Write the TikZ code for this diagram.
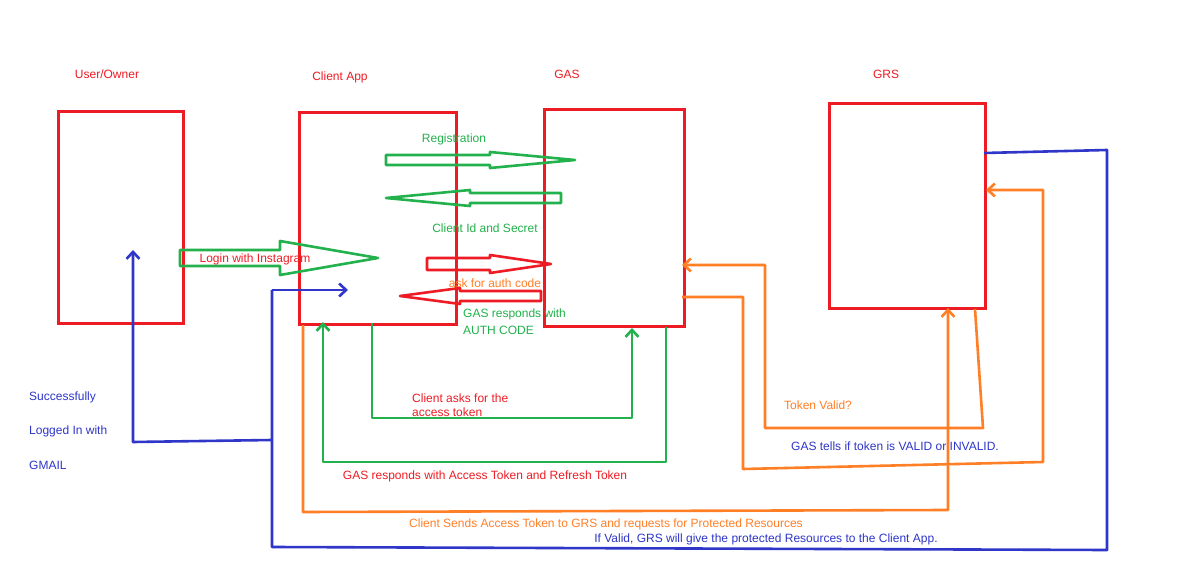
\documentclass[tikz,border=0pt]{standalone}
\usepackage{fontspec}
\setmainfont{Liberation Sans}
\usetikzlibrary{arrows.meta}
\definecolor{pred}{RGB}{237,28,36}
\definecolor{pgreen}{RGB}{34,177,76}
\definecolor{pblue}{RGB}{47,54,200}
\definecolor{porange}{RGB}{255,127,39}
% hollow arrow: x1, x2, y, shaft half width, head half width, head length, colour
\newcommand{\harrow}[7]{%
  \draw[#7,line width=2.6pt,line join=round] ({#1},{#3-#4}) -- ({#2-#6},{#3-#4}) -- ({#2-#6},{#3-#5})
    -- (#2,#3) -- ({#2-#6},{#3+#5}) -- ({#2-#6},{#3+#4}) -- ({#1},{#3+#4}) -- cycle;}
\begin{document}
\begin{tikzpicture}[x=1pt,y=-1pt,
    box/.style={draw=pred,line width=3pt,inner sep=0pt,anchor=north west},
    lbl/.style={font=\fontsize{12}{14}\selectfont,inner sep=1pt},
    wire/.style={line width=2.6pt,line join=round},
    tip/.style={-{Straight Barb[length=7pt,width=13pt]}}]
  \useasboundingbox (0,0) rectangle (1200,564);
  \fill[white] (0,0) rectangle (1200,564);

  % Boxes
  \node[box,minimum width=125pt,minimum height=212pt] (user) at (57,110) {};
  \node[box,minimum width=157pt,minimum height=212pt] (client) at (298,111) {};
  \node[box,minimum width=140pt,minimum height=217pt] (gas) at (543,108) {};
  \node[box,minimum width=156pt,minimum height=205pt] (grs) at (828,102) {};

  \node[lbl,text=pred] (l_user) at (107,74) {User/Owner};
  \node[lbl,text=pred] (l_client) at (340,77) {Client App};
  \node[lbl,text=pred] (l_gas) at (567,74) {GAS};
  \node[lbl,text=pred] (l_grs) at (886,74) {GRS};

  % Hollow arrows
  \harrow{386}{575}{160}{5}{8}{85}{pgreen}
  \harrow{561}{386}{198}{5}{8}{-84}{pgreen}
  \harrow{180}{378}{258}{8}{17}{98}{pgreen}
  \harrow{427}{551}{264}{6}{9}{61}{pred}
  \harrow{541}{400}{296}{5}{8}{-60}{pred}

  \node[lbl,text=pgreen] (l_reg) at (454,139) {Registration};
  \node[lbl,text=pgreen] (l_secret) at (485,228) {Client Id and Secret};
  \node[lbl,text=pred] (l_login) at (255,259) {Login with Instagram};
  \node[lbl,text=porange] (l_ask) at (495,283) {ask for auth code};
  \node[lbl,text=pgreen,align=left,anchor=north west] (l_authcode) at (462,308) {GAS responds with\\[3pt]AUTH CODE};

  % Blue lines
  \draw[wire,pblue,tip] (272,440) -- (133,442) -- (133,250);
  \draw[wire,pblue] (984,153) -- (1107,150) -- (1107,550) -- (272,547) -- (272,290);
  \draw[wire,pblue,tip] (272,290) -- (348,290);
  \node[lbl,text=pblue,anchor=west] (l_succ1) at (28,397) {Successfully};
  \node[lbl,text=pblue,anchor=west] (l_succ2) at (28,431) {Logged In with};
  \node[lbl,text=pblue,anchor=west] (l_succ3) at (28,465) {GMAIL};

  % Green token paths
  \draw[wire,pgreen,tip] (372,323) -- (372,418) -- (632,418) -- (632,328);
  \draw[wire,pgreen,tip] (666,327) -- (666,462) -- (323,462) -- (323,322);
  \node[lbl,text=pred,align=left,anchor=north west] (l_access) at (411,393) {Client asks for the\\access token};
  \node[lbl,text=pred] (l_refresh) at (485,476) {GAS responds with Access Token and Refresh Token};

  % Orange paths
  \draw[wire,porange,tip] (682,297) -- (743,297) -- (743,469) -- (1043,462) -- (1043,190) -- (986,190);
  \draw[wire,porange,tip] (975,309) -- (983,428) -- (765,428) -- (765,265) -- (682,265);
  \draw[wire,porange,tip] (303,325) -- (303,512) -- (948,510) -- (948,308);
  \node[lbl,text=porange] (l_valid) at (818,405) {Token Valid?};
  \node[lbl,text=pblue] (l_tells) at (895,446) {GAS tells if token is VALID or INVALID.};
  \node[lbl,text=porange] (l_sends) at (606,524) {Client Sends Access Token to GRS and requests for Protected Resources};
  \node[lbl,text=pblue] (l_give) at (766,539) {If Valid, GRS will give the protected Resources to the Client App.};
\end{tikzpicture}
\end{document}
